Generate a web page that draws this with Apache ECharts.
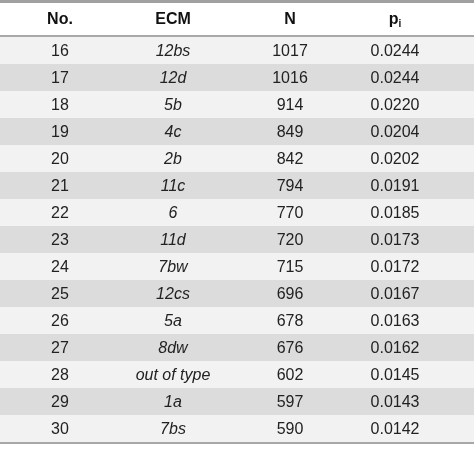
<!DOCTYPE html>
<html><head><meta charset="utf-8">
<script src="https://cdn.jsdelivr.net/npm/echarts@6/dist/echarts.min.js"></script>
<style>html,body{margin:0;padding:0;background:#fff}#c{width:474px;height:474px}</style>
</head><body><div id="c"></div>
<script>
const numbers = [16,17,18,19,20,21,22,23,24,25,26,27,28,29,30];
const ecm = ['12bs','12d','5b','4c','2b','11c','6','11d','7bw','12cs','5a','8dw','out of type','1a','7bs'];
const counts = [1017,1016,914,849,842,794,770,720,715,696,678,676,602,597,590];
const probs = ['0.0244','0.0244','0.0220','0.0204','0.0202','0.0191','0.0185','0.0173','0.0172','0.0167','0.0163','0.0162','0.0145','0.0143','0.0142'];
const headers = ['No.','ECM','N','p'];
const colX = [60,173,290,395];
const font = 'Liberation Sans, Arial, sans-serif';
const chart = echarts.init(document.getElementById('c'));
const data = numbers.map((n,i)=>[i, n, ecm[i], counts[i], probs[i]]);
chart.setOption({
  animation:false,
  grid:{left:0,right:0,top:37,bottom:32},
  xAxis:{type:'value',min:0,max:474,show:false},
  yAxis:{type:'category',data:numbers.map(String),inverse:true,show:false},
  series:[{
    type:'custom',
    data:data,
    renderItem:function(params,api){
      const i = api.value(0);
      const c = api.coord([0,i]);
      const h = api.size([0,1])[1];
      const w = params.coordSys.width;
      const y = c[1];
      const ch = [{type:'rect',shape:{x:0,y:y-h/2,width:w,height:h},style:{fill:i%2===0?'#f2f2f2':'#dcdcdc'}}];
      const vals = [String(numbers[i]), ecm[i], String(counts[i]), probs[i]];
      vals.forEach((v,k)=>{
        ch.push({type:'text',x:api.coord([colX[k],i])[0],y:y+1,style:{text:v,fill:'#222',font:(k===1?'italic ':'')+'16px '+font,align:'center',verticalAlign:'middle'}});
      });
      return {type:'group',children:ch};
    }
  }],
  graphic:[
    {type:'rect',shape:{x:0,y:0,width:474,height:3},style:{fill:'#a0a0a0'}},
    {type:'rect',shape:{x:0,y:35,width:474,height:2},style:{fill:'#a8a8a8'}},
    {type:'rect',shape:{x:0,y:442,width:474,height:2},style:{fill:'#a8a8a8'}},
    ...headers.map((t,k)=>({type:'text',x:colX[k],y:20,style:{
      text:k===3?'{p|p}{s|i}':t,
      rich:{p:{font:'bold 16px '+font,fill:'#111'},s:{font:'bold 10px '+font,fill:'#111',padding:[8,0,0,0]}},
      font:'bold 16px '+font,fill:'#111',align:'center',verticalAlign:'middle'}}))
  ]
});
</script></body></html>
